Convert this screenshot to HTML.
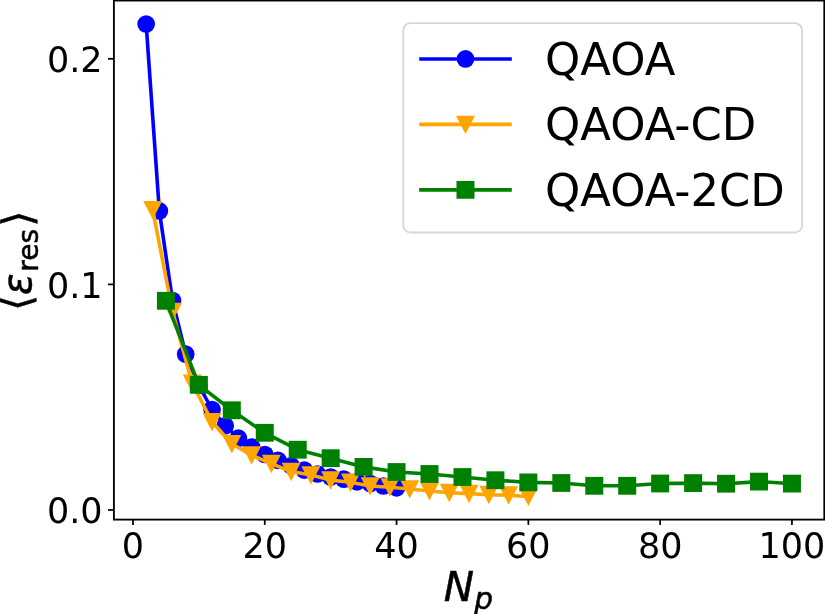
<!DOCTYPE html>
<html lang="en"><head><meta charset="utf-8"><title>QAOA residual energy</title>
<style>
html,body{margin:0;padding:0;background:#fff;}
body{width:825px;height:614px;overflow:hidden;}
svg{display:block;}
text{font-family:"DejaVu Sans","Liberation Sans",sans-serif;fill:#000;}
.tk{font-size:35px;}
.lg{font-size:44.8px;}
.lb{font-size:40px;}
.sb{font-size:28px;}
.it{font-style:italic;}
.br{font-size:41.5px;stroke:#000;stroke-width:0.5px;}
.bd{stroke:#000;stroke-width:0.5px;}
</style></head><body>
<svg width="825" height="614" viewBox="0 0 825 614">
<rect x="0" y="0" width="825" height="614" fill="#fff"/>
<g>
<polyline fill="none" stroke="#0000ff" stroke-width="3.6" stroke-linejoin="round" stroke-linecap="square" points="146.15,24.00 159.33,210.90 172.51,300.50 185.69,354.20 198.87,385.50 212.05,409.50 225.23,425.80 238.41,438.20 251.59,447.10 264.77,454.50 277.95,460.30 291.13,465.80 304.30,470.10 317.48,474.00 330.66,477.00 343.84,479.20 357.02,481.80 370.20,483.60 383.38,486.00 396.56,487.80"/>
<circle cx="146.15" cy="24.00" r="8.85" fill="#0000ff"/>
<circle cx="159.33" cy="210.90" r="8.85" fill="#0000ff"/>
<circle cx="172.51" cy="300.50" r="8.85" fill="#0000ff"/>
<circle cx="185.69" cy="354.20" r="8.85" fill="#0000ff"/>
<circle cx="198.87" cy="385.50" r="8.85" fill="#0000ff"/>
<circle cx="212.05" cy="409.50" r="8.85" fill="#0000ff"/>
<circle cx="225.23" cy="425.80" r="8.85" fill="#0000ff"/>
<circle cx="238.41" cy="438.20" r="8.85" fill="#0000ff"/>
<circle cx="251.59" cy="447.10" r="8.85" fill="#0000ff"/>
<circle cx="264.77" cy="454.50" r="8.85" fill="#0000ff"/>
<circle cx="277.95" cy="460.30" r="8.85" fill="#0000ff"/>
<circle cx="291.13" cy="465.80" r="8.85" fill="#0000ff"/>
<circle cx="304.30" cy="470.10" r="8.85" fill="#0000ff"/>
<circle cx="317.48" cy="474.00" r="8.85" fill="#0000ff"/>
<circle cx="330.66" cy="477.00" r="8.85" fill="#0000ff"/>
<circle cx="343.84" cy="479.20" r="8.85" fill="#0000ff"/>
<circle cx="357.02" cy="481.80" r="8.85" fill="#0000ff"/>
<circle cx="370.20" cy="483.60" r="8.85" fill="#0000ff"/>
<circle cx="383.38" cy="486.00" r="8.85" fill="#0000ff"/>
<circle cx="396.56" cy="487.80" r="8.85" fill="#0000ff"/>
<polyline fill="none" stroke="#ffa500" stroke-width="3.6" stroke-linejoin="round" stroke-linecap="square" points="152.74,209.90 172.51,311.50 192.28,383.40 212.05,421.80 231.82,443.80 251.59,455.20 271.36,463.60 291.13,471.60 310.89,475.00 330.66,480.10 350.43,482.30 370.20,486.00 389.97,487.20 409.74,489.00 429.51,491.00 449.28,492.70 469.05,493.60 488.82,494.70 508.59,495.20 528.36,496.50"/>
<path d="M143.24 201.05L162.24 201.05L152.74 219.50Z" fill="#ffa500"/>
<path d="M163.01 302.65L182.01 302.65L172.51 321.10Z" fill="#ffa500"/>
<path d="M182.78 374.55L201.78 374.55L192.28 393.00Z" fill="#ffa500"/>
<path d="M202.55 412.95L221.55 412.95L212.05 431.40Z" fill="#ffa500"/>
<path d="M222.32 434.95L241.32 434.95L231.82 453.40Z" fill="#ffa500"/>
<path d="M242.09 446.35L261.09 446.35L251.59 464.80Z" fill="#ffa500"/>
<path d="M261.86 454.75L280.86 454.75L271.36 473.20Z" fill="#ffa500"/>
<path d="M281.63 462.75L300.63 462.75L291.13 481.20Z" fill="#ffa500"/>
<path d="M301.39 466.15L320.39 466.15L310.89 484.60Z" fill="#ffa500"/>
<path d="M321.16 471.25L340.16 471.25L330.66 489.70Z" fill="#ffa500"/>
<path d="M340.93 473.45L359.93 473.45L350.43 491.90Z" fill="#ffa500"/>
<path d="M360.70 477.15L379.70 477.15L370.20 495.60Z" fill="#ffa500"/>
<path d="M380.47 478.35L399.47 478.35L389.97 496.80Z" fill="#ffa500"/>
<path d="M400.24 480.15L419.24 480.15L409.74 498.60Z" fill="#ffa500"/>
<path d="M420.01 482.15L439.01 482.15L429.51 500.60Z" fill="#ffa500"/>
<path d="M439.78 483.85L458.78 483.85L449.28 502.30Z" fill="#ffa500"/>
<path d="M459.55 484.75L478.55 484.75L469.05 503.20Z" fill="#ffa500"/>
<path d="M479.32 485.85L498.32 485.85L488.82 504.30Z" fill="#ffa500"/>
<path d="M499.09 486.35L518.09 486.35L508.59 504.80Z" fill="#ffa500"/>
<path d="M518.86 487.65L537.86 487.65L528.36 506.10Z" fill="#ffa500"/>
<polyline fill="none" stroke="#008000" stroke-width="3.6" stroke-linejoin="round" stroke-linecap="square" points="165.92,300.80 198.87,384.80 231.82,410.30 264.77,432.80 297.72,449.70 330.66,458.20 363.61,466.90 396.56,472.00 429.51,474.00 462.46,477.00 495.41,480.20 528.36,482.40 561.31,483.00 594.26,485.80 627.21,485.80 660.15,483.50 693.10,483.10 726.05,483.70 759.00,481.60 791.95,483.60"/>
<rect x="156.92" y="291.90" width="18.00" height="17.80" fill="#008000"/>
<rect x="189.87" y="375.90" width="18.00" height="17.80" fill="#008000"/>
<rect x="222.82" y="401.40" width="18.00" height="17.80" fill="#008000"/>
<rect x="255.77" y="423.90" width="18.00" height="17.80" fill="#008000"/>
<rect x="288.72" y="440.80" width="18.00" height="17.80" fill="#008000"/>
<rect x="321.66" y="449.30" width="18.00" height="17.80" fill="#008000"/>
<rect x="354.61" y="458.00" width="18.00" height="17.80" fill="#008000"/>
<rect x="387.56" y="463.10" width="18.00" height="17.80" fill="#008000"/>
<rect x="420.51" y="465.10" width="18.00" height="17.80" fill="#008000"/>
<rect x="453.46" y="468.10" width="18.00" height="17.80" fill="#008000"/>
<rect x="486.41" y="471.30" width="18.00" height="17.80" fill="#008000"/>
<rect x="519.36" y="473.50" width="18.00" height="17.80" fill="#008000"/>
<rect x="552.31" y="474.10" width="18.00" height="17.80" fill="#008000"/>
<rect x="585.26" y="476.90" width="18.00" height="17.80" fill="#008000"/>
<rect x="618.21" y="476.90" width="18.00" height="17.80" fill="#008000"/>
<rect x="651.15" y="474.60" width="18.00" height="17.80" fill="#008000"/>
<rect x="684.10" y="474.20" width="18.00" height="17.80" fill="#008000"/>
<rect x="717.05" y="474.80" width="18.00" height="17.80" fill="#008000"/>
<rect x="750.00" y="472.70" width="18.00" height="17.80" fill="#008000"/>
<rect x="782.95" y="474.70" width="18.00" height="17.80" fill="#008000"/>
</g>
<g stroke="#000" stroke-width="1.75" fill="none">
<line x1="132.97" y1="519.6" x2="132.97" y2="524.90"/>
<line x1="264.77" y1="519.6" x2="264.77" y2="524.90"/>
<line x1="396.56" y1="519.6" x2="396.56" y2="524.90"/>
<line x1="528.36" y1="519.6" x2="528.36" y2="524.90"/>
<line x1="660.15" y1="519.6" x2="660.15" y2="524.90"/>
<line x1="791.95" y1="519.6" x2="791.95" y2="524.90"/>
<line x1="113.9" y1="509.95" x2="108.00" y2="509.95"/>
<line x1="113.9" y1="284.40" x2="108.00" y2="284.40"/>
<line x1="113.9" y1="58.80" x2="108.00" y2="58.80"/>
</g>
<rect x="113.9" y="0.55" width="710.4" height="519.05" fill="none" stroke="#000" stroke-width="1.85" stroke-linejoin="miter"/>
<text class="tk" text-anchor="middle" x="132.97" y="557.8">0</text>
<text class="tk" text-anchor="middle" x="264.77" y="557.8">20</text>
<text class="tk" text-anchor="middle" x="396.56" y="557.8">40</text>
<text class="tk" text-anchor="middle" x="528.36" y="557.8">60</text>
<text class="tk" text-anchor="middle" x="660.15" y="557.8">80</text>
<text class="tk" text-anchor="middle" x="791.95" y="557.8">100</text>
<text class="tk" text-anchor="end" x="102.55" y="523.45">0.0</text>
<text class="tk" text-anchor="end" x="102.55" y="297.90">0.1</text>
<text class="tk" text-anchor="end" x="102.55" y="72.30">0.2</text>
<text class="it bd" style="font-size:40.5px" x="443.8" y="600.9">N</text><text class="it bd" style="font-size:29.5px" x="474.3" y="609.3">p</text>
<g transform="translate(30.8,307.6) rotate(-90)"><text class="br" x="-3.5" y="0.6">⟨</text><text class="lb it bd" x="12.5" y="0">ε</text><text class="bd" style="font-size:28px" x="35.9" y="7.65">res</text><text class="br" x="80.95" y="1.1">⟩</text></g>
<rect x="403.2" y="23.05" width="398.95" height="209.45" rx="7.5" ry="7.5" fill="#fff" fill-opacity="0.8" stroke="#cccccc" stroke-opacity="0.8" stroke-width="1.8"/>
<line x1="421" y1="58.95" x2="510" y2="58.95" stroke="#0000ff" stroke-width="3.6" stroke-linecap="square"/>
<circle cx="465.50" cy="58.95" r="8.85" fill="#0000ff"/>
<text class="lg" x="545.1" y="74.70">QAOA</text>
<line x1="421" y1="124.35" x2="510" y2="124.35" stroke="#ffa500" stroke-width="3.6" stroke-linecap="square"/>
<path d="M456.00 115.65L475.00 115.65L465.50 134.10Z" fill="#ffa500"/>
<text class="lg" x="545.1" y="140.15">QAOA-CD</text>
<line x1="421" y1="189.85" x2="510" y2="189.85" stroke="#008000" stroke-width="3.6" stroke-linecap="square"/>
<rect x="456.50" y="180.95" width="18.00" height="17.80" fill="#008000"/>
<text class="lg" x="545.1" y="205.60">QAOA-2CD</text>
</svg></body></html>
